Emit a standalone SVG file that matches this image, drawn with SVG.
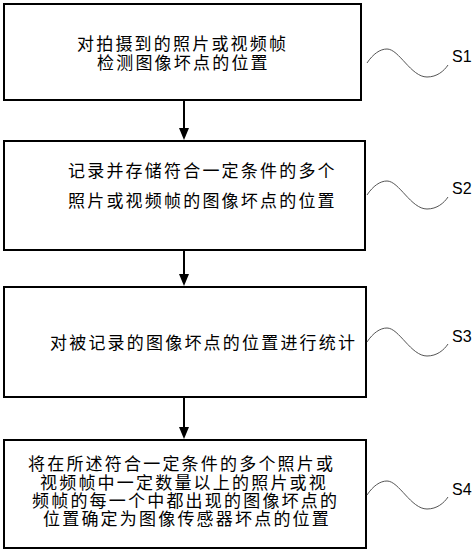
<svg xmlns="http://www.w3.org/2000/svg" width="474" height="555" viewBox="0 0 474 555">
<defs>
<style>
.box{fill:#fff;stroke:#000;stroke-width:2}
.t{font-family:"Noto Sans CJK SC","Noto Sans CJK TC",sans-serif;font-size:17px;letter-spacing:2.2px;fill:#000}
.lbl{font-family:"Liberation Sans",Arial,sans-serif;font-size:16px;fill:#000}
.wave{fill:none;stroke:#555;stroke-width:1}
.arr{stroke:#000;stroke-width:2;fill:none}
</style>
<path id="wv" d="M0,0 C6,-9 13,-14 20,-14 C32,-14 44,14 60,14 C70,14 77,8 81,2"/>
</defs>
<rect width="474" height="555" fill="#fff"/>
<g id="connectors">
<line class="arr" x1="184" y1="101" x2="184" y2="129"/><path d="M179,128 L189,128 L184,140 Z"/>
<line class="arr" x1="184" y1="251" x2="184" y2="275"/><path d="M179,274 L189,274 L184,286 Z"/>
<line class="arr" x1="184" y1="398" x2="184" y2="428"/><path d="M179,427 L189,427 L184,439 Z"/>
</g>
<g id="S1">
<rect class="box" x="4" y="4" width="357" height="96"/>
<text class="t"><tspan x="77" y="49.5">对拍摄到的照片或视频帧</tspan><tspan x="97" y="68.5">检测图像坏点的位置</tspan></text>
<use href="#wv" class="wave" transform="translate(367,63)"/>
<text class="lbl" x="452" y="62">S1</text>
</g>
<g id="S2">
<rect class="box" x="4" y="141" width="361" height="109"/>
<text class="t"><tspan x="68" y="176.5">记录并存储符合一定条件的多个</tspan><tspan x="68" y="206.5">照片或视频帧的图像坏点的位置</tspan></text>
<use href="#wv" class="wave" transform="translate(367,195)"/>
<text class="lbl" x="452" y="194">S2</text>
</g>
<g id="S3">
<rect class="box" x="4" y="287" width="362" height="110"/>
<text class="t" x="50" y="348.5">对被记录的图像坏点的位置进行统计</text>
<use href="#wv" class="wave" transform="translate(367,342)"/>
<text class="lbl" x="452" y="342">S3</text>
</g>
<g id="S4">
<rect class="box" x="4" y="440" width="362" height="108"/>
<text class="t"><tspan x="28" y="469.5">将在所述符合一定条件的多个照片或</tspan><tspan x="40" y="488.5">视频帧中一定数量以上的照片或视</tspan><tspan x="32" y="506.5">频帧的每一个中都出现的图像坏点的</tspan><tspan x="43" y="524.5">位置确定为图像传感器坏点的位置</tspan></text>
<use href="#wv" class="wave" transform="translate(367,495)"/>
<text class="lbl" x="452" y="495">S4</text>
</g>
</svg>
